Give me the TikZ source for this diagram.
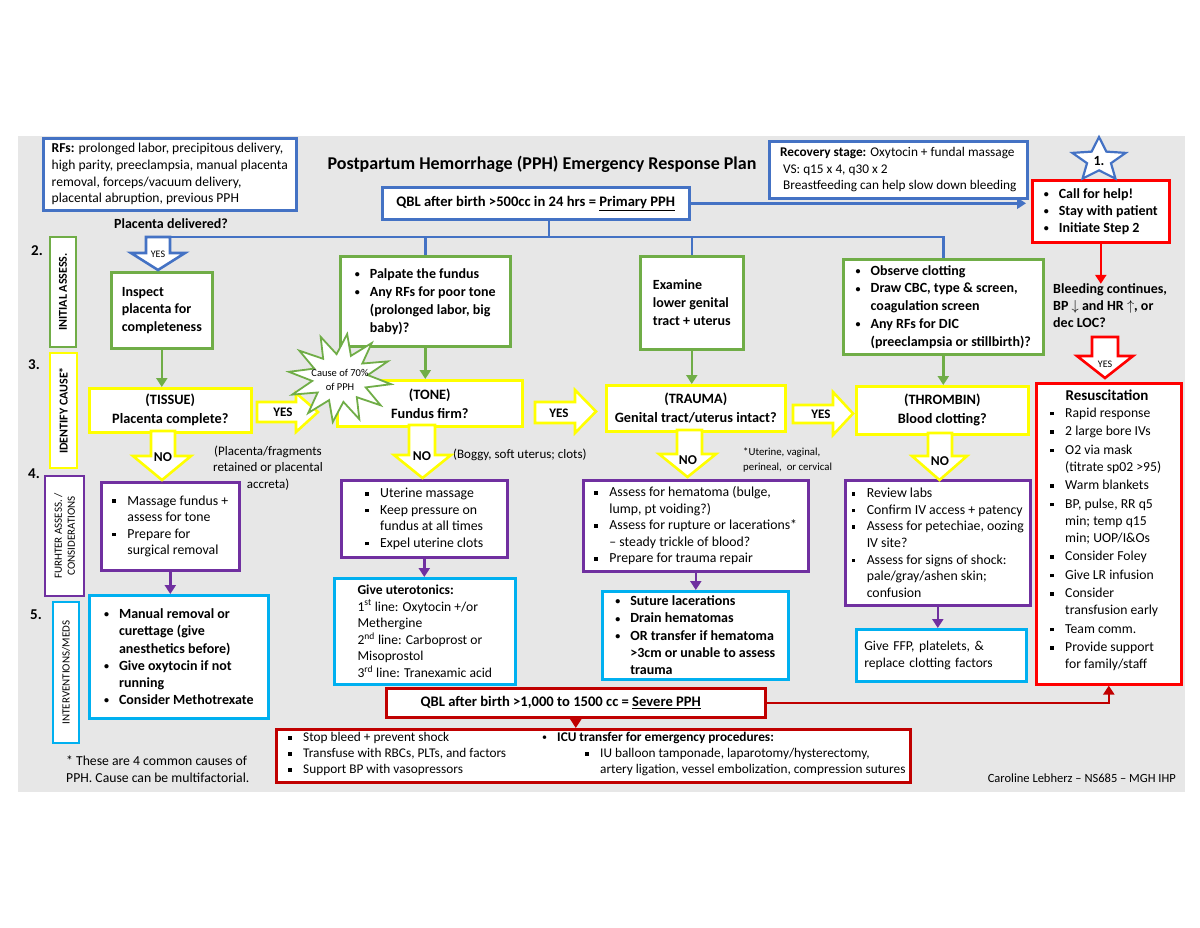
\documentclass[tikz,border=0pt]{standalone}
\usepackage{fontspec}
\setmainfont{Carlito}
\usetikzlibrary{arrows.meta}
\definecolor{pblue}{RGB}{68,114,196}
\definecolor{pgreen}{RGB}{112,173,71}
\definecolor{pyellow}{RGB}{255,255,0}
\definecolor{ppurple}{RGB}{112,48,160}
\definecolor{pcyan}{RGB}{0,176,240}
\definecolor{pred}{RGB}{255,0,0}
\definecolor{pdred}{RGB}{192,0,0}
\definecolor{pgray}{RGB}{231,231,231}
\newcommand{\fs}[2]{\fontsize{#1}{#2}\selectfont}
\newcommand{\bu}{\makebox[15pt][l]{\raisebox{.12ex}{\fontsize{10}{10}\selectfont\textbullet}}}
\newcommand{\sqb}{\makebox[15pt][l]{\raisebox{.3ex}{\rule{3.6pt}{3.6pt}}}}
\newcommand{\ind}{\hspace*{15pt}}

\begin{document}
\begin{tikzpicture}[x=1pt,y=-1pt]
\tikzstyle{every node}+=[inner sep=0pt]
\tikzset{sz/.style 2 args={minimum width=#1pt,minimum height=#2pt}}
\tikzstyle{box}=[draw,fill=white,line width=2.6pt,align=left,anchor=north west]
\tikzstyle{bbox}=[box,draw=pblue]
\tikzstyle{gbox}=[box,draw=pgreen,font={\fs{14}{18}\bfseries}]
\tikzstyle{ybox}=[box,draw=pyellow,align=center,font={\fs{14.3}{19}\bfseries}]
\tikzstyle{vbox}=[box,draw=ppurple,font=\fs{13.8}{16.6}]
\tikzstyle{cbox}=[box,draw=pcyan,font={\fs{14}{17.2}\bfseries}]
\tikzstyle{rbox}=[box,draw=pred]
\tikzstyle{dbox}=[box,draw=pdred]
\tikzstyle{tag}=[draw,fill=white,line width=2.6pt,rotate=90,align=center]
\tikzstyle{num}=[font={\fs{15}{17}\bfseries}]
\tikzstyle{conn}=[line width=2.6pt]
\tikzstyle{arr}=[conn,-{Triangle[length=9pt,width=11pt]}]
\tikzstyle{blk}=[fill=white,line width=2.6pt,line join=miter]
\tikzstyle{lbl}=[align=left,anchor=west]

\useasboundingbox (0,0) rectangle (1200,927);
\fill [pgray] (18,136) rectangle (1185,792);

\node [font={\fs{18}{21}\bfseries}] (title) at (542,164) {Postpartum Hemorrhage (PPH) Emergency Response Plan};
\node [bbox,sz={253}{72},font=\fs{13.6}{16.7}] (rfs) at (42,137) {\textbf{RFs:} prolonged labor, precipitous delivery,\\high parity, preeclampsia, manual placenta\\removal, forceps/vacuum delivery,\\placental abruption, previous PPH};
\node [bbox,sz={307}{32},font={\fs{14.6}{17}\bfseries}] (qbl) at (381,186) {QBL after birth >500cc in 24 hrs = \underline{Primary PPH}};
\node [bbox,sz={258}{57},font=\fs{13.3}{16.5}] (recov) at (768,140) {\textbf{Recovery stage:} Oxytocin + fundal massage\\\hspace*{3pt}VS: q15 x 4, q30 x 2\\\hspace*{3pt}Breastfeeding can help slow down bleeding};
\node [rbox,sz={137}{62},font={\fs{14}{17}\bfseries}] (call) at (1031,179) {\bu Call for help!\\\bu Stay with patient\\\bu Initiate Step 2};
\node [font={\fs{14}{17}\bfseries}] (deliv) at (171,224) {Placenta delivered?};

\node [num] (n2) at (37,251) {2.};
\node [num] (n3) at (34,365) {3.};
\node [num] (n4) at (34,474) {4.};
\node [num] (n5) at (36,615) {5.};
\node [tag,draw=pgreen,sz={110}{26},font={\fs{12}{14}\bfseries}] (tag2) at (63,292) {INITIAL ASSESS.};
\node [tag,draw=pyellow,sz={115}{27},font={\fs{12}{14}\bfseries}] (tag3) at (63.5,410.5) {IDENTIFY CAUSE*};
\node [tag,draw=ppurple,sz={120}{39},font=\fs{11}{13}] (tag4) at (64.5,536) {FURHTER ASSESS. /\\CONSIDERATIONS};
\node [tag,draw=pcyan,sz={141}{26},font=\fs{11}{13}] (tag5) at (66,672.5) {INTERVENTIONS/MEDS};

\node [gbox,sz={101}{76},font={\fs{14}{17.5}\bfseries}] (inspect) at (110,271) {Inspect\\placenta for\\completeness};
\node [gbox,sz={170}{90}] (palpate) at (339,255) {\bu Palpate the fundus\\\bu Any RFs for poor tone\\\ind(prolonged labor, big\\\ind baby)?};
\node [gbox,sz={103}{93}] (examine) at (639,255) {Examine\\lower genital\\tract + uterus};
\node [gbox,sz={200}{95},font={\fs{14}{17.7}\bfseries}] (observe) at (842,258) {\bu Observe clotting\\\bu Draw CBC, type \& screen,\\\ind coagulation screen\\\bu Any RFs for DIC\\\ind(preeclampsia or stillbirth)?};

\node [ybox,sz={162}{44}] (tissue) at (88,387) {(TISSUE)\\Placenta complete?};
\node [ybox,sz={185}{46}] (tone) at (336,379) {(TONE)\\Fundus firm?};
\node [ybox,sz={179}{46}] (trauma) at (605,384) {(TRAUMA)\\Genital tract/uterus intact?};
\node [ybox,sz={172}{48}] (thromb) at (855,385) {(THROMBIN)\\Blood clotting?};

\node [vbox,sz={138}{88}] (massage) at (100,481) {\sqb Massage fundus +\\\ind assess for tone\\\sqb Prepare for\\\ind surgical removal};
\node [vbox,sz={166}{77}] (uterine) at (340,479) {\sqb Uterine massage\\\sqb Keep pressure on\\\ind fundus at all times\\\sqb Expel uterine clots};
\node [vbox,sz={225}{91}] (hemat) at (582,479) {\sqb Assess for hematoma (bulge,\\\ind lump, pt voiding?)\\\sqb Assess for rupture or lacerations*\\\ind -- steady trickle of blood?\\\sqb Prepare for trauma repair};
\node [vbox,sz={185}{125}] (labs) at (844,479) {\sqb Review labs\\\sqb Confirm IV access + patency\\\sqb Assess for petechiae, oozing\\\ind IV site?\\\sqb Assess for signs of shock:\\\ind pale/gray/ashen skin;\\\ind confusion};

\node [cbox,sz={179}{123}] (manual) at (88,594) {\bu Manual removal or\\\ind curettage (give\\\ind anesthetics before)\\\bu Give oxytocin if not\\\ind running\\\bu Consider Methotrexate};
\node [cbox,sz={181}{106},font=\fs{13.6}{16.6}] (utero) at (333,577) {\textbf{Give uterotonics:}\\1\textsuperscript{st} line: Oxytocin +/or\\Methergine\\2\textsuperscript{nd} line: Carboprost or\\Misoprostol\\3\textsuperscript{rd} line: Tranexamic acid};
\node [cbox,sz={186}{88}] (suture) at (601,590) {\bu Suture lacerations\\\bu Drain hematomas\\\bu OR transfer if hematoma\\\ind >3cm or unable to assess\\\ind trauma};
\node [cbox,sz={170}{52},text width=154pt,font=\fs{13.6}{16.5}] (ffp) at (855,628) {Give FFP, platelets, \&\\replace clotting factors};

\node [lbl,font={\fs{14}{17}\bfseries}] (bleed) at (1053,306) {Bleeding continues,\\BP $\downarrow$ and HR $\uparrow$, or\\dec LOC?};
\node [rbox,sz={145}{301}] (resus) at (1035,382) {};
\node [font={\fs{15}{18}\bfseries}] (resustit) at (1107,395) {Resuscitation};
\node [lbl,font=\fs{13.7}{17}] (resuslist) at (1050,539.5) {\sqb Rapid response\\[1.5pt]\sqb 2 large bore IVs\\[1.5pt]\sqb O2 via mask\\\ind(titrate sp02 >95)\\[1.5pt]\sqb Warm blankets\\[1.5pt]\sqb BP, pulse, RR q5\\\ind min; temp q15\\\ind min; UOP/I\&Os\\[1.5pt]\sqb Consider Foley\\[1.5pt]\sqb Give LR infusion\\[1.5pt]\sqb Consider\\\ind transfusion early\\[1.5pt]\sqb Team comm.\\[1.5pt]\sqb Provide support\\\ind for family/staff};

\node [dbox,sz={379}{29},font={\fs{14.6}{16}\bfseries}] (severe) at (385,687) {QBL after birth >1,000 to 1500 cc = \underline{Severe PPH}\hspace*{30pt}};
\node [dbox,sz={634}{53}] (lower) at (275,728) {};
\node [lbl,font=\fs{13.3}{16}] (lowl) at (288,754) {\sqb Stop bleed + prevent shock\\\sqb Transfuse with RBCs, PLTs, and factors\\\sqb Support BP with vasopressors};
\node [lbl,font=\fs{13.3}{16}] (lowr) at (542,754) {\bu\textbf{ICU transfer for emergency procedures:}\\\hspace*{43pt}\sqb IU balloon tamponade, laparotomy/hysterectomy,\\\hspace*{58pt}artery ligation, vessel embolization, compression sutures};

\node [align=center,font=\fs{13}{16.5}] (retained) at (268,468) {(Placenta/fragments\\retained or placental\\accreta)};
\node [lbl,font=\fs{13}{16}] (boggy) at (453,455) {(Boggy, soft uterus; clots)};
\node [lbl,font=\fs{10.8}{15}] (lacer) at (743,460.5) {*Uterine, vaginal,\\perineal,~ or cervical};
\node [lbl,font=\fs{13.7}{17}] (foot) at (66,769.5) {* These are 4 common causes of\\PPH. Cause can be multifactorial.};
\node [anchor=east,font=\fs{12.5}{15}] (credit) at (1176,778) {Caroline Lebherz -- NS685 -- MGH IHP};

\coordinate (hl) at (146,237);
\coordinate (qb) at (549,237);
\draw [conn,pblue] (qb |- qbl.south) -- (qb);
\draw [conn,pblue] (hl) -| (observe.north);
\draw [conn,pblue] (palpate.north) -- (palpate.north |- hl);
\draw [conn,pblue] (examine.north) -- (examine.north |- hl);
\draw [arr,pblue,shorten >=5pt] (qbl.east) -- (qbl.east -| call.west);
\draw [arr,pred] (call.south) -- (call.south |- bleed.north);

\draw [arr,pgreen] (inspect.south) -- (inspect.south |- tissue.north);
\draw [arr,pgreen] (palpate.south) -- (palpate.south |- tone.north);
\draw [arr,pgreen] (examine.south) -- (examine.south |- trauma.north);
\draw [arr,pgreen] (observe.south) -- (observe.south |- thromb.north);
\draw [arr,ppurple] (massage.south) -- (massage.south |- manual.north);
\draw [arr,ppurple] (uterine.south) -- (uterine.south |- utero.north);
\draw [arr,ppurple] (hemat.south) -- (hemat.south |- suture.north);
\draw [arr,ppurple] (labs.south) -- (labs.south |- ffp.north);
\draw [arr,pdred] (severe.east) -| (resus.south);
\draw [arr,pdred] (severe.south) -- (severe.south |- lower.north);

\draw [pblue,blk] (146,237) -- (146,253) -- (131,253) -- (158,270) -- (185,253) -- (170,253) -- (170,237) -- cycle;
\node [font=\fs{10}{12}] (yes0) at (158,254) {YES};
\draw [pred,blk] (1092,337) -- (1092,356) -- (1077,356) -- (1105,378) -- (1133,356) -- (1118,356) -- (1118,337) -- cycle;
\node [font=\fs{10}{12}] (yes4) at (1105,364) {YES};

\draw [pyellow,blk] (257,402) -- (296,402) -- (296,393) -- (318,412) -- (296,432) -- (296,422) -- (257,422) -- cycle;
\node [font={\fs{13}{15}\bfseries}] (yes1) at (283,412) {YES};
\draw [pyellow,blk] (535,402) -- (575,402) -- (575,390) -- (596,411.5) -- (575,433) -- (575,423) -- (535,423) -- cycle;
\node [font={\fs{13}{15}\bfseries}] (yes2) at (559,413) {YES};
\draw [pyellow,blk] (793,405) -- (833,405) -- (833,392) -- (853,413.5) -- (833,435) -- (833,423) -- (793,423) -- cycle;
\node [font={\fs{13}{15}\bfseries}] (yes3) at (821,414) {YES};

\draw [pyellow,blk] (151,431) -- (151,456) -- (133,456) -- (162,480) -- (191,456) -- (175,456) -- (175,431) -- cycle;
\node [font={\fs{13.5}{15}\bfseries}] (no1) at (163,457) {NO};
\draw [pyellow,blk] (409,425) -- (409,455) -- (394,455) -- (422.5,478) -- (451,455) -- (435,455) -- (435,425) -- cycle;
\node [font={\fs{13.5}{15}\bfseries}] (no2) at (422,456) {NO};
\draw [pyellow,blk] (677,430) -- (677,454) -- (659,454) -- (687.5,477) -- (716,454) -- (702,454) -- (702,430) -- cycle;
\node [font={\fs{13.5}{15}\bfseries}] (no3) at (688,460) {NO};
\draw [pyellow,blk] (928,433) -- (928,456) -- (912,456) -- (939.5,480) -- (967,456) -- (952,456) -- (952,433) -- cycle;
\node [font={\fs{13.5}{15}\bfseries}] (no4) at (940,461) {NO};

\draw [pgreen,blk,line width=1.8pt] plot [samples at={0,15,...,345},variable=\a] ({340+(1.2-0.55*mod(\a/15,2))*43*cos(\a+8)},{378+(1.2-0.55*mod(\a/15,2))*37*sin(\a+8)}) -- cycle;
\node [align=center,font=\fs{10.5}{14}] (cause) at (340,380) {Cause of 70\%\\of PPH};
\draw [pblue,blk,line width=2.2pt] plot [samples at={0,...,9},variable=\k] ({1099+(1-0.55*mod(\k,2))*28*cos(90+36*\k)},{160-(1-0.55*mod(\k,2))*23*sin(90+36*\k)}) -- cycle;
\node [font={\fs{14}{17}\bfseries}] (one) at (1099,161) {1.};
\end{tikzpicture}
\end{document}
